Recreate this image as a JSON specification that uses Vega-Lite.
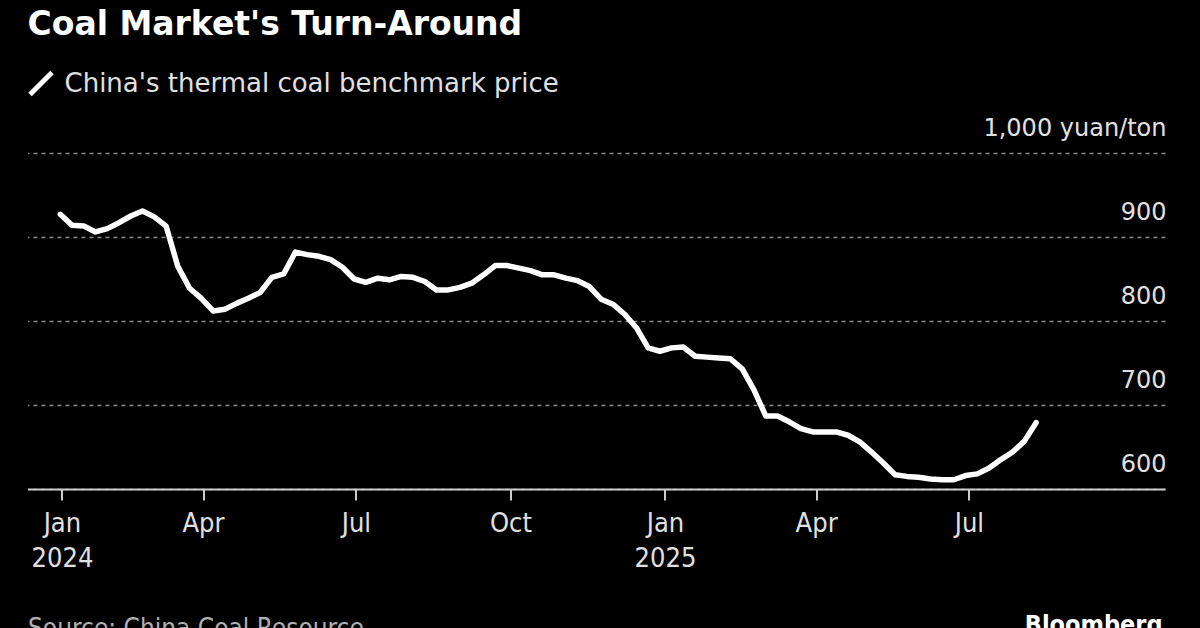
{
  "$schema": "https://vega.github.io/schema/vega-lite/v6.json",
  "width": 1137.5,
  "height": 336,
  "autosize": {"type": "none"},
  "padding": {"left": 27.5, "top": 153, "right": 35, "bottom": 139},
  "background": "#000000",
  "config": {"view": {"stroke": null}, "font": "DejaVu Sans"},
  "title": {
    "text": "Coal Market's Turn-Around",
    "anchor": "start",
    "frame": "group",
    "font": "DejaVu Sans",
    "fontSize": 33,
    "fontWeight": "bold",
    "color": "#ffffff",
    "baseline": "alphabetic",
    "offset": 2
  },
  "data": {
    "values": [
      {"date": "2024-01-07", "price": 927, "series": "China's thermal coal benchmark price"},
      {"date": "2024-01-14", "price": 914, "series": "China's thermal coal benchmark price"},
      {"date": "2024-01-21", "price": 913, "series": "China's thermal coal benchmark price"},
      {"date": "2024-01-28", "price": 906, "series": "China's thermal coal benchmark price"},
      {"date": "2024-02-04", "price": 910, "series": "China's thermal coal benchmark price"},
      {"date": "2024-02-11", "price": 917, "series": "China's thermal coal benchmark price"},
      {"date": "2024-02-18", "price": 925, "series": "China's thermal coal benchmark price"},
      {"date": "2024-02-25", "price": 931, "series": "China's thermal coal benchmark price"},
      {"date": "2024-03-03", "price": 924, "series": "China's thermal coal benchmark price"},
      {"date": "2024-03-10", "price": 913, "series": "China's thermal coal benchmark price"},
      {"date": "2024-03-17", "price": 865, "series": "China's thermal coal benchmark price"},
      {"date": "2024-03-24", "price": 839, "series": "China's thermal coal benchmark price"},
      {"date": "2024-03-31", "price": 827, "series": "China's thermal coal benchmark price"},
      {"date": "2024-04-07", "price": 812, "series": "China's thermal coal benchmark price"},
      {"date": "2024-04-14", "price": 814, "series": "China's thermal coal benchmark price"},
      {"date": "2024-04-21", "price": 821, "series": "China's thermal coal benchmark price"},
      {"date": "2024-04-28", "price": 827, "series": "China's thermal coal benchmark price"},
      {"date": "2024-05-05", "price": 834, "series": "China's thermal coal benchmark price"},
      {"date": "2024-05-12", "price": 852, "series": "China's thermal coal benchmark price"},
      {"date": "2024-05-19", "price": 856, "series": "China's thermal coal benchmark price"},
      {"date": "2024-05-26", "price": 882, "series": "China's thermal coal benchmark price"},
      {"date": "2024-06-02", "price": 879, "series": "China's thermal coal benchmark price"},
      {"date": "2024-06-09", "price": 877, "series": "China's thermal coal benchmark price"},
      {"date": "2024-06-16", "price": 873, "series": "China's thermal coal benchmark price"},
      {"date": "2024-06-23", "price": 864, "series": "China's thermal coal benchmark price"},
      {"date": "2024-06-30", "price": 850, "series": "China's thermal coal benchmark price"},
      {"date": "2024-07-07", "price": 846, "series": "China's thermal coal benchmark price"},
      {"date": "2024-07-14", "price": 851, "series": "China's thermal coal benchmark price"},
      {"date": "2024-07-21", "price": 849, "series": "China's thermal coal benchmark price"},
      {"date": "2024-07-28", "price": 853, "series": "China's thermal coal benchmark price"},
      {"date": "2024-08-04", "price": 852, "series": "China's thermal coal benchmark price"},
      {"date": "2024-08-11", "price": 847, "series": "China's thermal coal benchmark price"},
      {"date": "2024-08-18", "price": 837, "series": "China's thermal coal benchmark price"},
      {"date": "2024-08-25", "price": 837, "series": "China's thermal coal benchmark price"},
      {"date": "2024-09-01", "price": 840, "series": "China's thermal coal benchmark price"},
      {"date": "2024-09-08", "price": 845, "series": "China's thermal coal benchmark price"},
      {"date": "2024-09-15", "price": 855, "series": "China's thermal coal benchmark price"},
      {"date": "2024-09-22", "price": 866, "series": "China's thermal coal benchmark price"},
      {"date": "2024-09-29", "price": 866, "series": "China's thermal coal benchmark price"},
      {"date": "2024-10-06", "price": 863, "series": "China's thermal coal benchmark price"},
      {"date": "2024-10-13", "price": 860, "series": "China's thermal coal benchmark price"},
      {"date": "2024-10-20", "price": 855, "series": "China's thermal coal benchmark price"},
      {"date": "2024-10-27", "price": 855, "series": "China's thermal coal benchmark price"},
      {"date": "2024-11-03", "price": 851, "series": "China's thermal coal benchmark price"},
      {"date": "2024-11-10", "price": 848, "series": "China's thermal coal benchmark price"},
      {"date": "2024-11-17", "price": 841, "series": "China's thermal coal benchmark price"},
      {"date": "2024-11-24", "price": 826, "series": "China's thermal coal benchmark price"},
      {"date": "2024-12-01", "price": 820, "series": "China's thermal coal benchmark price"},
      {"date": "2024-12-08", "price": 808, "series": "China's thermal coal benchmark price"},
      {"date": "2024-12-15", "price": 792, "series": "China's thermal coal benchmark price"},
      {"date": "2024-12-22", "price": 768, "series": "China's thermal coal benchmark price"},
      {"date": "2024-12-29", "price": 764, "series": "China's thermal coal benchmark price"},
      {"date": "2025-01-05", "price": 768, "series": "China's thermal coal benchmark price"},
      {"date": "2025-01-12", "price": 769, "series": "China's thermal coal benchmark price"},
      {"date": "2025-01-19", "price": 758, "series": "China's thermal coal benchmark price"},
      {"date": "2025-01-26", "price": 757, "series": "China's thermal coal benchmark price"},
      {"date": "2025-02-02", "price": 756, "series": "China's thermal coal benchmark price"},
      {"date": "2025-02-09", "price": 755, "series": "China's thermal coal benchmark price"},
      {"date": "2025-02-16", "price": 743, "series": "China's thermal coal benchmark price"},
      {"date": "2025-02-23", "price": 718, "series": "China's thermal coal benchmark price"},
      {"date": "2025-03-02", "price": 687, "series": "China's thermal coal benchmark price"},
      {"date": "2025-03-09", "price": 687, "series": "China's thermal coal benchmark price"},
      {"date": "2025-03-16", "price": 680, "series": "China's thermal coal benchmark price"},
      {"date": "2025-03-23", "price": 672, "series": "China's thermal coal benchmark price"},
      {"date": "2025-03-30", "price": 668, "series": "China's thermal coal benchmark price"},
      {"date": "2025-04-06", "price": 668, "series": "China's thermal coal benchmark price"},
      {"date": "2025-04-13", "price": 668, "series": "China's thermal coal benchmark price"},
      {"date": "2025-04-20", "price": 664, "series": "China's thermal coal benchmark price"},
      {"date": "2025-04-27", "price": 656, "series": "China's thermal coal benchmark price"},
      {"date": "2025-05-04", "price": 644, "series": "China's thermal coal benchmark price"},
      {"date": "2025-05-11", "price": 631, "series": "China's thermal coal benchmark price"},
      {"date": "2025-05-18", "price": 617, "series": "China's thermal coal benchmark price"},
      {"date": "2025-05-25", "price": 615, "series": "China's thermal coal benchmark price"},
      {"date": "2025-06-01", "price": 614, "series": "China's thermal coal benchmark price"},
      {"date": "2025-06-08", "price": 612, "series": "China's thermal coal benchmark price"},
      {"date": "2025-06-15", "price": 611, "series": "China's thermal coal benchmark price"},
      {"date": "2025-06-22", "price": 611, "series": "China's thermal coal benchmark price"},
      {"date": "2025-06-29", "price": 616, "series": "China's thermal coal benchmark price"},
      {"date": "2025-07-06", "price": 618, "series": "China's thermal coal benchmark price"},
      {"date": "2025-07-13", "price": 625, "series": "China's thermal coal benchmark price"},
      {"date": "2025-07-20", "price": 635, "series": "China's thermal coal benchmark price"},
      {"date": "2025-07-27", "price": 644, "series": "China's thermal coal benchmark price"},
      {"date": "2025-08-03", "price": 657, "series": "China's thermal coal benchmark price"},
      {"date": "2025-08-10", "price": 679, "series": "China's thermal coal benchmark price"}
    ]
  },
  "mark": {"type": "line", "strokeWidth": 5.5, "strokeJoin": "round", "strokeCap": "round"},
  "encoding": {
    "x": {
      "field": "date",
      "type": "temporal",
      "scale": {"domain": [{"year": 2023, "month": 12, "date": 18, "hours": 12}, {"year": 2025, "month": 10, "date": 25, "hours": 17}]},
      "axis": {
        "values": [
          {"year": 2024, "month": 1, "date": 8},
          {"year": 2024, "month": 4, "date": 1},
          {"year": 2024, "month": 7, "date": 1},
          {"year": 2024, "month": 10, "date": 1},
          {"year": 2025, "month": 1, "date": 1},
          {"year": 2025, "month": 4, "date": 1},
          {"year": 2025, "month": 7, "date": 1}
        ],
        "labelExpr": "month(datum.value) == 0 ? [timeFormat(datum.value, '%b'), timeFormat(datum.value, '%Y')] : timeFormat(datum.value, '%b')",
        "grid": false,
        "zindex": 1,
        "domainColor": "#cccccc",
        "domainWidth": 2,
        "tickColor": "#cccccc",
        "tickWidth": 2,
        "tickSize": 11,
        "labelFont": "DejaVu Sans Condensed, DejaVu Sans",
        "labelFontSize": 27,
        "labelColor": "#e0e0e0",
        "labelPadding": 10,
        "labelLineHeight": 35,
        "labelBaseline": "top",
        "labelAlign": "center",
        "labelFlush": false,
        "labelOverlap": false,
        "title": "Source: China Coal Resource",
        "titleFont": "DejaVu Sans Condensed, DejaVu Sans",
        "titleAnchor": "start",
        "titleAlign": "left",
        "titleX": 0,
        "titleY": 147,
        "titleBaseline": "alphabetic",
        "titleFontSize": 26,
        "titleFontWeight": "normal",
        "titleColor": "#b0b0b0",
        "titleLimit": 0
      }
    },
    "y": {
      "field": "price",
      "type": "quantitative",
      "scale": {"domain": [600, 1000], "zero": false, "nice": false},
      "axis": {
        "orient": "right",
        "values": [600, 700, 800, 900, 1000],
        "labelExpr": "datum.value == 1000 ? '1,000 yuan/ton' : datum.label",
        "domain": false,
        "ticks": false,
        "tickSize": 0,
        "grid": true,
        "gridColor": "#8a8a8a",
        "gridDash": [4, 4],
        "gridWidth": 1.5,
        "labelFont": "DejaVu Sans",
        "labelAlign": "right",
        "labelPadding": 1,
        "labelBaseline": "alphabetic",
        "labelOffset": -18,
        "labelFontSize": 24,
        "labelColor": "#e0e0e0",
        "labelLimit": 0,
        "labelFlush": false,
        "labelOverlap": false,
        "title": "Bloomberg",
        "titleFont": "DejaVu Sans Condensed, DejaVu Sans",
        "titleAngle": 0,
        "titleAlign": "right",
        "titleBaseline": "alphabetic",
        "titleX": -3,
        "titleY": 479,
        "titleFontSize": 25,
        "titleFontWeight": "bold",
        "titleColor": "#ffffff",
        "titleLimit": 0
      }
    },
    "color": {
      "field": "series",
      "type": "nominal",
      "scale": {"range": ["#ffffff"]},
      "legend": {
        "orient": "none",
        "legendX": 0,
        "legendY": -83,
        "title": null,
        "padding": 0,
        "symbolType": "M-1,1L1,-1",
        "symbolSize": 484,
        "symbolStrokeWidth": 5,
        "labelFont": "DejaVu Sans",
        "labelFontSize": 26,
        "labelColor": "#e0e0e0",
        "labelOffset": 10,
        "labelLimit": 0
      }
    }
  }
}
